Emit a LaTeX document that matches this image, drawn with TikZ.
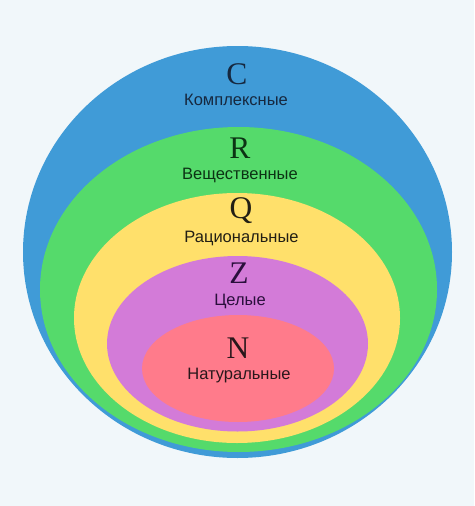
\documentclass[tikz,border=0pt]{standalone}
\usepackage{fontspec}
\setmainfont{Liberation Sans}
\newfontfamily\letterfont{Liberation Serif}
\definecolor{bgc}{HTML}{F1F7FA}
\definecolor{cblue}{HTML}{409BD7}
\definecolor{cgreen}{HTML}{55DA6B}
\definecolor{cyellow}{HTML}{FFE06B}
\definecolor{cpurple}{HTML}{D37BD8}
\definecolor{cpink}{HTML}{FF7B8B}
\definecolor{tblue}{HTML}{16283F}
\definecolor{tgreen}{HTML}{0C3314}
\definecolor{tyellow}{HTML}{221F14}
\definecolor{tpurple}{HTML}{2A0F3C}
\definecolor{tpink}{HTML}{2A171B}
\tikzset{
  letter/.style={anchor=base, inner sep=0pt, font=\letterfont\fontsize{31.5}{31.5}\selectfont},
  setname/.style={anchor=base, inner sep=0pt, font=\fontsize{16.5}{16.5}\selectfont}
}
\begin{document}
\begin{tikzpicture}[x=1pt,y=-1pt]
\useasboundingbox (0,0) rectangle (474,506);
\fill[bgc] (0,0) rectangle (474,506);
\fill[cblue]   (237.5,252)   ellipse [x radius=214.5, y radius=206];
\fill[cgreen]  (238.5,289.5) ellipse [x radius=198.5, y radius=162.5];
\fill[cyellow] (237,318)     ellipse [x radius=163,   y radius=125];
\fill[cpurple] (237.5,343.75) ellipse [x radius=130.5, y radius=87.75];
\fill[cpink]   (238,368.5)   ellipse [x radius=96,    y radius=53.5];
\node[letter, text=tblue]   (C) at (237,84)  {C};
\node[setname, text=tblue]  (Cl) at (236,105) {Комплексные};
\node[letter, text=tgreen]  (R) at (240,158) {R};
\node[setname, text=tgreen] (Rl) at (240,179) {Вещественные};
\node[letter, text=tyellow] (Q) at (241,218) {Q};
\node[setname, text=tyellow] (Ql) at (241.5,242) {Рациональные};
\node[letter, text=tpurple] (Z) at (239,283) {Z};
\node[setname, text=tpurple] (Zl) at (240,305) {Целые};
\node[letter, text=tpink]   (N) at (238,358) {N};
\node[setname, text=tpink]  (Nl) at (239,379) {Натуральные};
\end{tikzpicture}
\end{document}
